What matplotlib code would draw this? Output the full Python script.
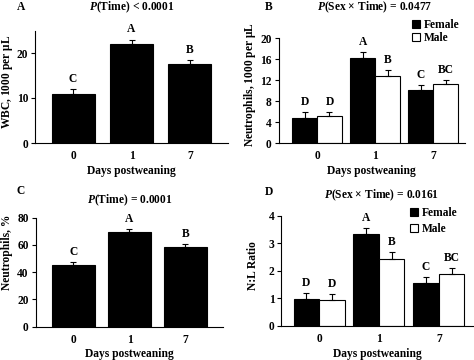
import matplotlib
matplotlib.use("Agg")
import matplotlib.pyplot as plt
import numpy as np
from matplotlib.patches import Patch

plt.rcParams['font.family'] = ['Liberation Serif', 'DejaVu Serif']
plt.rcParams['font.weight'] = 'bold'
plt.rcParams['axes.labelweight'] = 'bold'
plt.rcParams['mathtext.fontset'] = 'custom'
plt.rcParams['mathtext.rm'] = 'Liberation Serif:bold'
plt.rcParams['mathtext.it'] = 'Liberation Serif:italic:bold'
plt.rcParams['axes.linewidth'] = 0.8

days = ['0', '1', '7']

wbc = [10.8, 22.0, 17.5]
wbc_se = [1.1, 1.0, 0.9]
wbc_letters = ['C', 'A', 'B']

neut_f = [4.9, 16.3, 10.1]
neut_f_se = [1.0, 1.0, 1.0]
neut_m = [5.2, 12.9, 11.3]
neut_m_se = [0.8, 1.1, 0.8]
neut_f_letters = ['D', 'A', 'C']
neut_m_letters = ['D', 'B', 'BC']

neut_pct = [45.0, 69.7, 58.4]
neut_pct_se = [2.4, 1.9, 2.0]
neut_pct_letters = ['C', 'A', 'B']

nl_f = [0.98, 3.34, 1.57]
nl_f_se = [0.20, 0.20, 0.19]
nl_m = [0.94, 2.44, 1.90]
nl_m_se = [0.21, 0.23, 0.20]
nl_f_letters = ['D', 'A', 'C']
nl_m_letters = ['D', 'B', 'BC']

FS = 8.3
W, H = 474, 360
fig = plt.figure(figsize=(4.74, 3.6), dpi=100)


def px_axes(l, r, top, bot):
    return fig.add_axes([l / W, (H - bot) / H, (r - l) / W, (bot - top) / H])


def style(ax, ylim, yticks, xlim, ylabel, ylabel_x, ylabel_y):
    ax.set_ylim(*ylim)
    ax.set_xlim(*xlim)
    ax.set_yticks(yticks)
    ax.set_xticks(range(len(days)))
    ax.set_xticklabels(days)
    ax.spines['top'].set_visible(False)
    ax.spines['right'].set_visible(False)
    ax.tick_params(axis='x', length=0, pad=5, labelsize=FS)
    ax.tick_params(axis='y', length=3, width=0.8, pad=2, labelsize=FS)
    ax.set_xlabel('Days postweaning', fontsize=FS, labelpad=2)
    ax.set_ylabel(ylabel, fontsize=FS, va='center')
    ax.yaxis.set_label_coords(ylabel_x / W, 1 - ylabel_y / H, transform=fig.transFigure)


def bars(ax, x, vals, se, color, width, letters):
    ax.bar(x, vals, width=width, color=color, edgecolor='black', linewidth=0.8, zorder=2)
    ax.errorbar(x, vals, yerr=[np.zeros(len(vals)), se], fmt='none', ecolor='black',
                elinewidth=0.8, capsize=2, capthick=0.8, zorder=3)
    for xi, v, s, t in zip(x, vals, se, letters):
        ax.annotate(t, (xi, v + s), xytext=(0, 3), textcoords='offset points',
                    ha='center', va='bottom', fontsize=FS)


x = np.arange(len(days))

# Panel A
axA = px_axes(35, 228, 30.5, 143)
bars(axA, x, wbc, wbc_se, 'black', 0.735, wbc_letters)
style(axA, (0, 25), [0, 10, 20], (-0.65, 2.65), r'WBC, 1000 per $\mathrm{\mu}$L', 8, 82)
fig.text(21 / W, 1 - 7 / H, 'A', fontsize=FS, ha='center', va='center')
fig.text(132 / W, 1 - 7 / H, '$P$(Time) < 0.0001', fontsize=FS, ha='center', va='center')

# Panel B
axB = px_axes(278.7, 465, 38.3, 143.3)
w = 0.43
bars(axB, x - w / 2, neut_f, neut_f_se, 'black', w, neut_f_letters)
bars(axB, x + w / 2, neut_m, neut_m_se, 'white', w, neut_m_letters)
style(axB, (0, 20), [0, 4, 8, 12, 16, 20], (-0.66, 2.55), r'Neutrophils, 1000 per $\mathrm{\mu}$L', 250, 85)
fig.text(269 / W, 1 - 7 / H, 'B', fontsize=FS, ha='center', va='center')
fig.text(375 / W, 1 - 7 / H, r'$P$(Sex $\times$ Time) = 0.0477', fontsize=FS, ha='center', va='center')
hb = [Patch(facecolor='black', edgecolor='black', linewidth=0.8),
      Patch(facecolor='white', edgecolor='black', linewidth=0.8)]
axB.legend(hb, ['Female', 'Male'], loc='upper left', bbox_to_anchor=(412 / W, 1 - 19 / H),
           bbox_transform=fig.transFigure, frameon=False, fontsize=FS,
           handlelength=0.7, handleheight=0.7, handletextpad=0.3, labelspacing=0.1,
           borderpad=0, borderaxespad=0)

# Panel C
axC = px_axes(35.7, 223, 217.7, 326.7)
bars(axC, x, neut_pct, neut_pct_se, 'black', 0.77, neut_pct_letters)
style(axC, (0, 80), [0, 20, 40, 60, 80], (-0.675, 2.67), 'Neutrophils, %', 7, 252)
fig.text(21 / W, 1 - 191 / H, 'C', fontsize=FS, ha='center', va='center')
fig.text(130 / W, 1 - 200 / H, '$P$(Time) = 0.0001', fontsize=FS, ha='center', va='center')

# Panel D
axD = px_axes(281.3, 473, 215.7, 326)
w = 0.425
bars(axD, x - w / 2, nl_f, nl_f_se, 'black', w, nl_f_letters)
bars(axD, x + w / 2, nl_m, nl_m_se, 'white', w, nl_m_letters)
style(axD, (0, 4), [0, 1, 2, 3, 4], (-0.63, 2.57), 'N:L Ratio', 253, 266)
fig.text(269 / W, 1 - 192 / H, 'D', fontsize=FS, ha='center', va='center')
fig.text(382 / W, 1 - 195 / H, r'$P$(Sex $\times$ Time) = 0.0161', fontsize=FS, ha='center', va='center')
axD.legend(hb, ['Female', 'Male'], loc='upper left', bbox_to_anchor=(410 / W, 1 - 207 / H),
           bbox_transform=fig.transFigure, frameon=False, fontsize=FS,
           handlelength=0.7, handleheight=0.7, handletextpad=0.3, labelspacing=0.35,
           borderpad=0, borderaxespad=0)

fig.savefig('out.png', dpi=100)
